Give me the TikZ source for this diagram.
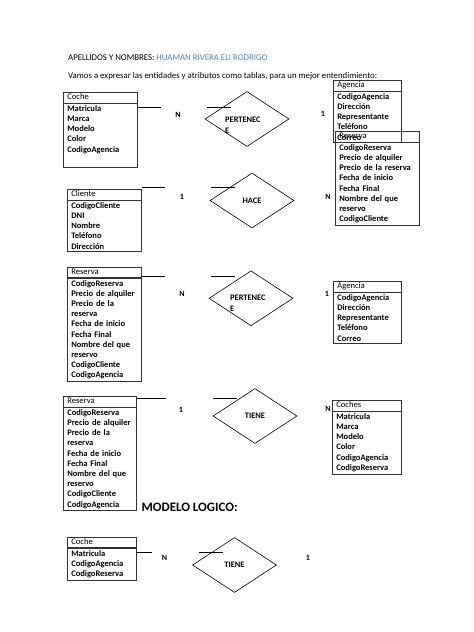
\documentclass[tikz,border=0pt]{standalone}
\usepackage{fontspec}
\setmainfont{Carlito}
\usepackage{xcolor}
\usetikzlibrary{shapes.geometric}

\definecolor{namecol}{RGB}{79,129,189}

\begin{document}
\begin{tikzpicture}[x=1pt,y=-1pt,
    hdr/.style={draw=black!80, line width=0.6pt, anchor=north west, align=left,
        inner xsep=4pt, inner ysep=0pt, minimum height=10.5pt,
        text height=6pt, text depth=1.8pt, font=\fontsize{8.6}{10.2}\selectfont},
    attrs/.style={draw=black!80, line width=0.6pt, anchor=north west, align=left,
        inner xsep=4pt, inner ysep=2pt, font=\fontsize{8.5}{10.2}\selectfont\bfseries},
    rel/.style={draw, diamond, aspect=1.5, minimum width=84pt, minimum height=55pt,
        line width=0.6pt, inner sep=0pt, font=\fontsize{8.4}{10}\selectfont\bfseries},
    reltxt/.style={anchor=west, align=left, inner sep=0pt, font=\fontsize{8.4}{11.5}\selectfont\bfseries},
    card/.style={inner sep=0pt, font=\fontsize{8}{10}\selectfont\bfseries},
    stub/.style={line width=0.6pt}]

\useasboundingbox (0,0) rectangle (474,632);

% Heading
\node[anchor=base west, inner sep=0pt, font=\fontsize{8.8}{10}\selectfont] (names) at (68,60.5)
    {APELLIDOS Y NOMBRES: \textcolor{namecol}{HUAMAN RIVERA ELI RODRIGO}};
\node[anchor=base west, inner sep=0pt, font=\fontsize{8.8}{10}\selectfont] (intro) at (68,78)
    {Vamos a expresar las entidades y atributos como tablas, para un mejor entendimiento:};

% Coche - PERTENECE - Agencia
\node[hdr, text width=66pt] (coche) at (63,92) {Coche};
\node[attrs, text width=66pt] (coche-at) at (coche.south west)
    {Matricula\\Marca\\Modelo\\Color\\CodigoAgencia\\\strut};
\node[rel] (pert1) at (247,119) {};
\node[reltxt] (pert1-txt) at ([xshift=-22pt,yshift=-6pt]pert1.center) {PERTENEC\\E};
\node[hdr, text width=60pt] (agencia1) at (333,80) {Agencia};
\node[attrs, text width=60pt] (agencia1-at) at (agencia1.south west)
    {CodigoAgencia\\Dirección\\Representante\\Teléfono\\Correo};

% Cliente - HACE - Reserva
\node[hdr, text width=76pt] (reserva1) at (335,131) {Reserva};
\node[attrs, text width=76pt] (reserva1-at) at (reserva1.south west)
    {CodigoReserva\\Precio de alquiler\\Precio de la reserva\\Fecha de inicio\\Fecha Final\\Nombre del que\\reservo\\CodigoCliente};
\node[hdr, text width=66pt] (cliente) at (67,189) {Cliente};
\node[attrs, text width=66pt] (cliente-at) at (cliente.south west)
    {CodigoCliente\\DNI\\Nombre\\Teléfono\\Dirección};
\node[rel] (hace) at (252,200.5) {HACE};

% Reserva - PERTENECE - Agencia
\node[hdr, text width=66pt] (reserva2) at (67,266.7) {Reserva};
\node[attrs, text width=66pt] (reserva2-at) at (reserva2.south west)
    {CodigoReserva\\Precio de alquiler\\Precio de la\\reserva\\Fecha de inicio\\Fecha Final\\Nombre del que\\reservo\\CodigoCliente\\CodigoAgencia};
\node[rel] (pert2) at (251,298.3) {};
\node[reltxt] (pert2-txt) at ([xshift=-21pt,yshift=-5pt]pert2.center) {PERTENEC\\E};
\node[hdr, text width=60pt] (agencia2) at (333,281) {Agencia};
\node[attrs, text width=60pt] (agencia2-at) at (agencia2.south west)
    {CodigoAgencia\\Dirección\\Representante\\Teléfono\\Correo};

% Reserva - TIENE - Coches
\node[hdr, text width=65pt] (reserva3) at (63,396) {Reserva};
\node[attrs, text width=65pt] (reserva3-at) at (reserva3.south west)
    {CodigoReserva\\Precio de alquiler\\Precio de la\\reserva\\Fecha de inicio\\Fecha Final\\Nombre del que\\reservo\\CodigoCliente\\CodigoAgencia};
\node[rel] (tiene1) at (255,416) {TIENE};
\node[hdr, text width=61pt] (coches) at (332,400) {Coches};
\node[attrs, text width=61pt] (coches-at) at (coches.south west)
    {Matricula\\Marca\\Modelo\\Color\\CodigoAgencia\\CodigoReserva};

% Modelo logico
\node[anchor=base west, inner sep=0pt, font=\fontsize{12.9}{14}\selectfont\bfseries] (modelo) at (141.5,511) {MODELO LOGICO:};
\node[hdr, text width=61pt] (coche2) at (67,536.7) {Coche};
\node[attrs, text width=61pt] (coche2-at) at (coche2.south west)
    {Matricula\\CodigoAgencia\\CodigoReserva};
\node[rel] (tiene2) at (234.5,565) {TIENE};

% Stubs
\foreach \nm/\ent/\xa/\y/\xb in {s1/coche-at/161/107/207, s2/cliente-at/165/187.5/211,
    s3/reserva2-at/165/276.3/211, s4/reserva3-at/166/398.5/213, s5/coche2-at/152/552.7/199}
{
    \coordinate (\nm-a) at (\xa,\y);
    \coordinate (\nm-b) at (\xb,\y);
    \draw[stub] (\ent.east |- \nm-a) -- (\nm-a);
    \draw[stub] (\nm-b) -- ++(24,0);
}

% Cardinalities
\foreach \nm/\x/\y/\t in {c1/178/115/N, c2/323/114/1, c3/182/197/1, c4/328/197/N,
    c5/182/294/N, c6/327/294/1, c7/181/410/1, c8/328/409/N, c9/164.5/558/N, c10/308/558/1}
{
    \node[card] (card-\nm) at (\x,\y) {\t};
}

\end{tikzpicture}
\end{document}
